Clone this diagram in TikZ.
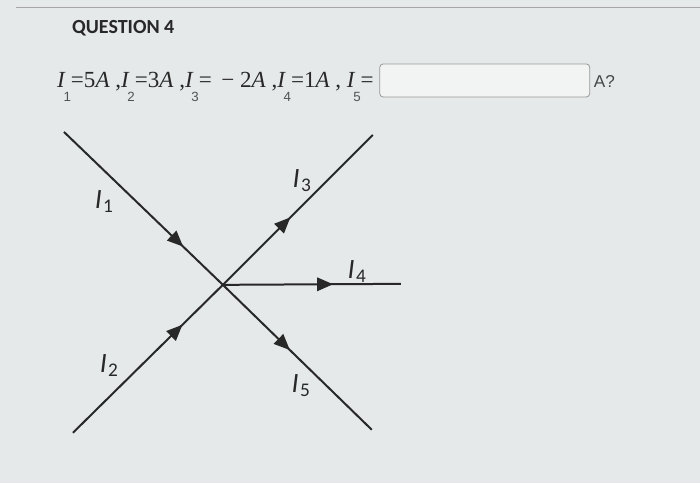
\documentclass[tikz,border=0pt]{standalone}
\usepackage{fontspec}
\setmainfont{Liberation Serif}
\newfontfamily\calfont{Carlito}
\newfontfamily\arialfont{Liberation Sans}
\usetikzlibrary{arrows.meta,decorations.markings}
\definecolor{bgray}{RGB}{229,233,233}
\definecolor{ink}{RGB}{40,40,40}
\newcommand\eqsub[1]{\kern-1pt\raisebox{-0.6em}{\color{ink!80}\arialfont\fontsize{10}{10}\selectfont #1}}
\newcommand\curr[1]{{\calfont\itshape I}\kern1pt\raisebox{-3pt}{\calfont\fontsize{14.5}{14.5}\selectfont #1}}
\tikzset{%
  >={Triangle[width=10pt,length=12pt]},
  % Specifications for style of nodes and wires:
        heading/.style = {anchor=base west, inner sep=0pt, text=ink,
                          font=\calfont\fontsize{15}{16}\selectfont\bfseries},
       equation/.style = {anchor=base west, inner sep=0pt, text=ink,
                          font=\fontsize{17.3}{19}\selectfont},
          anbox/.style = {rectangle, rounded corners=2.5pt, draw=gray!80,
                          fill=bgray!50!white, line width=0.6pt,
                          minimum width=157.5pt, minimum height=24.75pt},
          unit/.style  = {anchor=base west, inner sep=0pt, text=ink!85,
                          font=\arialfont\fontsize{12.9}{14}\selectfont},
        current/.style = {inner sep=0pt, text=ink,
                          font=\calfont\fontsize{21}{22}\selectfont},
           wire/.style = {draw=ink, line width=1.5pt},
           flow/.style = {wire, postaction={decorate, decoration={markings,
                          mark=at position #1 with {\arrow[ink]{>}}}}},
}
\begin{document}
\begin{tikzpicture}[x=0.75pt, y=-0.75pt]
  % background of the page
  \fill[bgray] (0,0) rectangle (700,483);
  \draw[gray!70, line width=0.6pt] (16,7) -- (700,7);
  \useasboundingbox (0,0) rectangle (700,483);

  % Specification of text nodes
  \node (title)    [heading]  at (72,33.3) {QUESTION 4};
  \node (given)    [equation] at (57,88)
    {{\itshape I}\eqsub{1}=5{\itshape A} ,{\itshape I}\eqsub{2}=3{\itshape A} ,{\itshape I}\eqsub{3}= \,− 2{\itshape A} ,{\itshape I}\eqsub{4}=1{\itshape A} , {\itshape I}\eqsub{5}=};
  \node (answer)   [anbox]    at (485,80.5) {};
  \node (unitA)    [unit]     at (594,87.3) {A?};

  % Specification of the junction and wire ends
  \coordinate (O)  at (223,285);
  \coordinate (e1) at (64,132);
  \coordinate (e2) at (73,433);
  \coordinate (e3) at (373,135);
  \coordinate (e4) at (401,284);
  \coordinate (e5) at (372,430);

  \draw[flow=0.75]  (e1) -- (O);
  \draw[flow=0.73]  (e2) -- (O);
  \draw[flow=0.45]  (O) -- (e3);
  \draw[flow=0.62]  (O) -- (e4);
  \draw[flow=0.45]  (O) -- (e5);

  % labels of the currents
  \node (l1) [current] at (104,202) {\curr{1}};
  \node (l2) [current] at (109,366) {\curr{2}};
  \node (l3) [current] at (302,181) {\curr{3}};
  \node (l4) [current] at (357,272) {\curr{4}};
  \node (l5) [current] at (301,386) {\curr{5}};
\end{tikzpicture}
\end{document}
